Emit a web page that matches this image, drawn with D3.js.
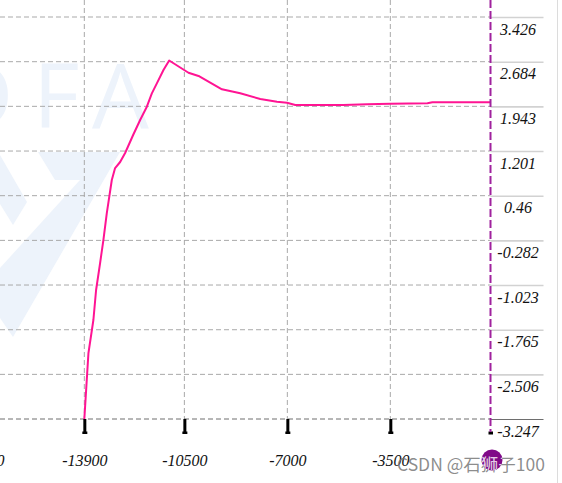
<!DOCTYPE html>
<html>
<head>
<meta charset="utf-8">
<script src="https://cdn.jsdelivr.net/npm/d3@7"></script>
<style>
  html, body { margin: 0; padding: 0; background: #fff; }
  svg { display: block; }
</style>
</head>
<body>
<svg id="chart" width="562" height="483"></svg>
<script>
// ---- data ----
const xTickValues = [-17400, -13900, -10500, -7000, -3500];
const xTickLabels = ["-17400", "-13900", "-10500", "-7000", "-3500"];
const yTickValues = [3.426, 2.684, 1.943, 1.201, 0.46, -0.282, -1.023, -1.765, -2.506, -3.247];
const yTickLabels = ["3.426", "2.684", "1.943", "1.201", "0.46", "-0.282", "-1.023", "-1.765", "-2.506", "-3.247"];
const xValues = [-13900, -13760, -13592, -13500, -13364, -13252, -13136, -12966, -12854, -12683,
                 -12513, -12241, -12003, -11775, -11605, -11435, -11210, -11016, -10360, -10019,
                 -9223, -8601, -7920, -7352, -7012, -6730, -5097, -4290, -3497, -2239, -2069, -95];
const yValues = [-3.247, -2.152, -1.604, -1.106, -0.658, -0.276, 0.172, 0.720, 0.919, 1.019,
                 1.168, 1.467, 1.716, 1.937, 2.159, 2.325, 2.546, 2.704, 2.501, 2.447,
                 2.226, 2.159, 2.065, 2.020, 2.003, 1.965, 1.965, 1.977, 1.987, 1.993, 2.010, 2.010];
const xDomain = [-16766, -95];
const yDomain = [-3.247, 3.426];
const logoLetters = ["D", "F", "A"];
const watermarkText = "CSDN @石狮子100";

// ---- layout ----
const svg = d3.select("#chart");
const plotRight = 490.5, plotBottom = 419, plotTopY = 17;
const x = d3.scaleLinear().domain(xDomain).range([0, plotRight]);
const y = d3.scaleLinear().domain(yDomain).range([plotBottom, plotTopY]);

// background logo watermark (light blue)
const logo = svg.append("g").attr("fill", "#edf3fb");
const letterX = [-52, 33, 92];
logo.selectAll("text").data(logoLetters).join("text")
  .attr("x", (d, i) => letterX[i]).attr("y", 128)
  .attr("font-family", "'Open Sans', Lato, sans-serif").attr("font-weight", 400)
  .attr("font-size", 90).text(d => d);
logo.append("polygon").attr("points", "38,152 120,152 13,337 0,318 0,268 80,180 55,180");
logo.append("polygon").attr("points", "0,155 27,202 13,225 0,204");

// grid lines
const grid = svg.append("g");
grid.selectAll("line.h").data(yTickValues.slice(0, -1)).join("line")
  .attr("x1", 0).attr("x2", plotRight)
  .attr("y1", d => y(d)).attr("y2", d => y(d))
  .attr("stroke", "#a9a9a9").attr("stroke-width", 1).attr("stroke-dasharray", "5,3");
grid.selectAll("line.v").data(xTickValues).join("line")
  .attr("x1", d => x(d)).attr("x2", d => x(d))
  .attr("y1", 0).attr("y2", plotBottom)
  .attr("stroke", "#a9a9a9").attr("stroke-width", 1).attr("stroke-dasharray", "5,3");
// bottom baseline
svg.append("line").attr("x1", 0).attr("x2", plotRight)
  .attr("y1", plotBottom).attr("y2", plotBottom)
  .attr("stroke", "#6e6e6e").attr("stroke-width", 1).attr("stroke-dasharray", "5,3");

// y axis (right)
const yAxisG = svg.append("g").attr("transform", `translate(${plotRight},0)`)
  .call(d3.axisRight(y).tickValues(yTickValues).tickSize(53)
    .tickFormat((d, i) => yTickLabels[i]));
yAxisG.select(".domain").remove();
yAxisG.selectAll(".tick line").attr("stroke", (d, i) => i === yTickValues.length - 1 ? "#6e6e6e" : "#d2d2d2")
  .attr("stroke-width", (d, i) => i === yTickValues.length - 1 ? 1 : 1.6);
yAxisG.selectAll(".tick text")
  .attr("x", 27.5).attr("y", 17).attr("dy", null)
  .attr("text-anchor", "middle").attr("fill", "#111")
  .style("font-family", "'Liberation Serif', 'Times New Roman', serif")
  .style("font-style", "italic").style("font-size", "16px");

// x axis
const xAxisG = svg.append("g").attr("transform", `translate(0,${plotBottom})`)
  .call(d3.axisBottom(x).tickValues(xTickValues).tickSize(14)
    .tickFormat((d, i) => xTickLabels[i]));
xAxisG.select(".domain").remove();
xAxisG.selectAll(".tick line").attr("stroke", "#000").attr("stroke-width", 3);
xAxisG.selectAll(".tick").append("rect")
  .attr("x", -2.5).attr("y", 12.5).attr("width", 5).attr("height", 2.5).attr("fill", "#000");
xAxisG.selectAll(".tick text")
  .attr("y", 47).attr("dy", null).attr("fill", "#111")
  .style("font-family", "'Liberation Serif', 'Times New Roman', serif")
  .style("font-style", "italic").style("font-size", "16px");

// series line
const lineGen = d3.line().x(d => x(d[0])).y(d => y(d[1]));
svg.append("path").datum(d3.zip(xValues, yValues))
  .attr("d", lineGen).attr("fill", "none")
  .attr("stroke", "#ff1493").attr("stroke-width", 2).attr("stroke-linejoin", "round");

// right axis purple dashed line + end cap
svg.append("rect").attr("x", plotRight - 2).attr("y", 431.5).attr("width", 4.5).attr("height", 3).attr("fill", "#000");
svg.append("line").attr("x1", plotRight).attr("x2", plotRight).attr("y1", 0).attr("y2", 432)
  .attr("stroke", "#a0229e").attr("stroke-width", 2).attr("stroke-dasharray", "8,3");

// right frame border
svg.append("line").attr("x1", 557.5).attr("x2", 557.5).attr("y1", 0).attr("y2", 483)
  .attr("stroke", "#dcdcdc").attr("stroke-width", 1);

// CSDN watermark
svg.append("circle").attr("cx", 492).attr("cy", 460).attr("r", 10.5).attr("fill", "#800a88");
const defs = svg.append("defs");
defs.append("clipPath").attr("id", "circClip").append("circle")
  .attr("cx", 492).attr("cy", 460).attr("r", 10.5);
const wm = (g, fill) => g.append("text").attr("x", 397).attr("y", 471)
  .attr("font-family", "'Noto Sans CJK SC', 'Noto Sans', sans-serif")
  .attr("font-size", 17.5).attr("fill", fill).text(watermarkText);
wm(svg, "rgba(120,120,120,0.85)");
wm(svg.append("g").attr("clip-path", "url(#circClip)"), "#e8c8ea");
</script>
</body>
</html>
